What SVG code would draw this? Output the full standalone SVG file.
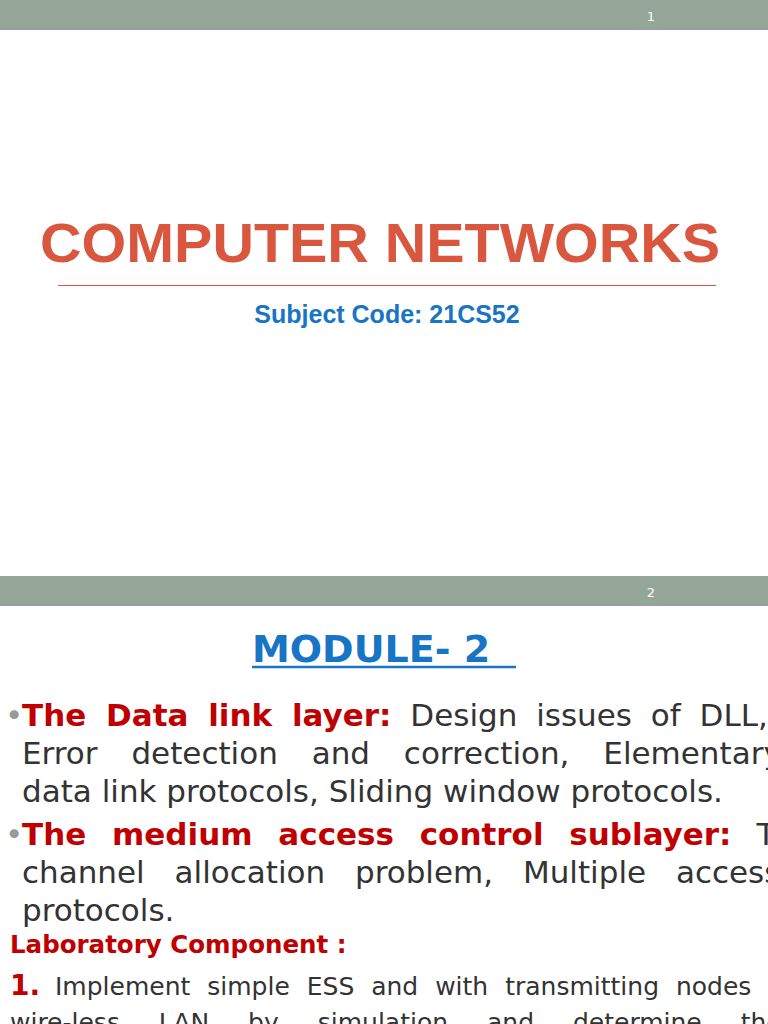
<svg xmlns="http://www.w3.org/2000/svg" width="768" height="1024" viewBox="0 0 768 1024">
<style>
.bar{fill:#95A598}
.num{font-family:"DejaVu Sans",sans-serif;font-size:13px;fill:#fff}
.b{font-family:"DejaVu Sans",sans-serif;font-size:31px;fill:#333}
.s{font-family:"DejaVu Sans",sans-serif;font-size:25px;fill:#333}
.r{fill:#C00000;font-weight:bold}
.g{fill:#999}
</style>
<rect width="768" height="1024" fill="#fff"/>
<rect class="bar" x="0" y="0" width="768" height="30"/>
<text class="num" x="651" y="21" text-anchor="middle">1</text>
<text x="380" y="262" text-anchor="middle" font-family="Liberation Sans,Arial,sans-serif" font-size="55" font-weight="bold" fill="#D9573F" textLength="680" lengthAdjust="spacingAndGlyphs">COMPUTER NETWORKS</text>
<line x1="58" y1="285.5" x2="716" y2="285.5" stroke="#D9573F" stroke-width="1.2"/>
<text x="387" y="323" text-anchor="middle" font-family="Liberation Sans,Arial,sans-serif" font-size="25" font-weight="bold" fill="#1874C4">Subject Code: 21CS52</text>
<rect class="bar" x="0" y="576" width="768" height="30"/>
<text class="num" x="651" y="597" text-anchor="middle">2</text>
<text x="252" y="662" font-family="DejaVu Sans,sans-serif" font-size="38" font-weight="bold" fill="#1874C4">MODULE- 2</text>
<line x1="252" y1="667" x2="516" y2="667" stroke="#1874C4" stroke-width="2.5"/>
<g class="b">
<text class="g" x="5" y="726">•</text>
<text x="22" y="726" word-spacing="9"><tspan class="r">The Data link layer:</tspan> Design issues of DLL,</text>
<text x="22" y="764" word-spacing="24">Error detection and correction, Elementary</text>
<text x="22" y="802">data link protocols, Sliding window protocols.</text>
<text class="g" x="5" y="845">•</text>
<text x="22" y="845" word-spacing="15"><tspan class="r">The medium access control sublayer:</tspan> The</text>
<text x="22" y="883" word-spacing="20">channel allocation problem, Multiple access</text>
<text x="22" y="921">protocols.</text>
</g>
<text x="10" y="953" font-family="DejaVu Sans,sans-serif" font-size="24.5" font-weight="bold" fill="#C00000">Laboratory Component :</text>
<text x="10" y="995" font-family="DejaVu Sans,sans-serif" font-size="28" font-weight="bold" fill="#C00000">1.</text>
<g class="s">
<text x="55" y="995" word-spacing="9">Implement simple ESS and with transmitting nodes in</text>
<text x="10" y="1031" word-spacing="31">wire-less LAN by simulation and determine the</text>
</g>
</svg>
